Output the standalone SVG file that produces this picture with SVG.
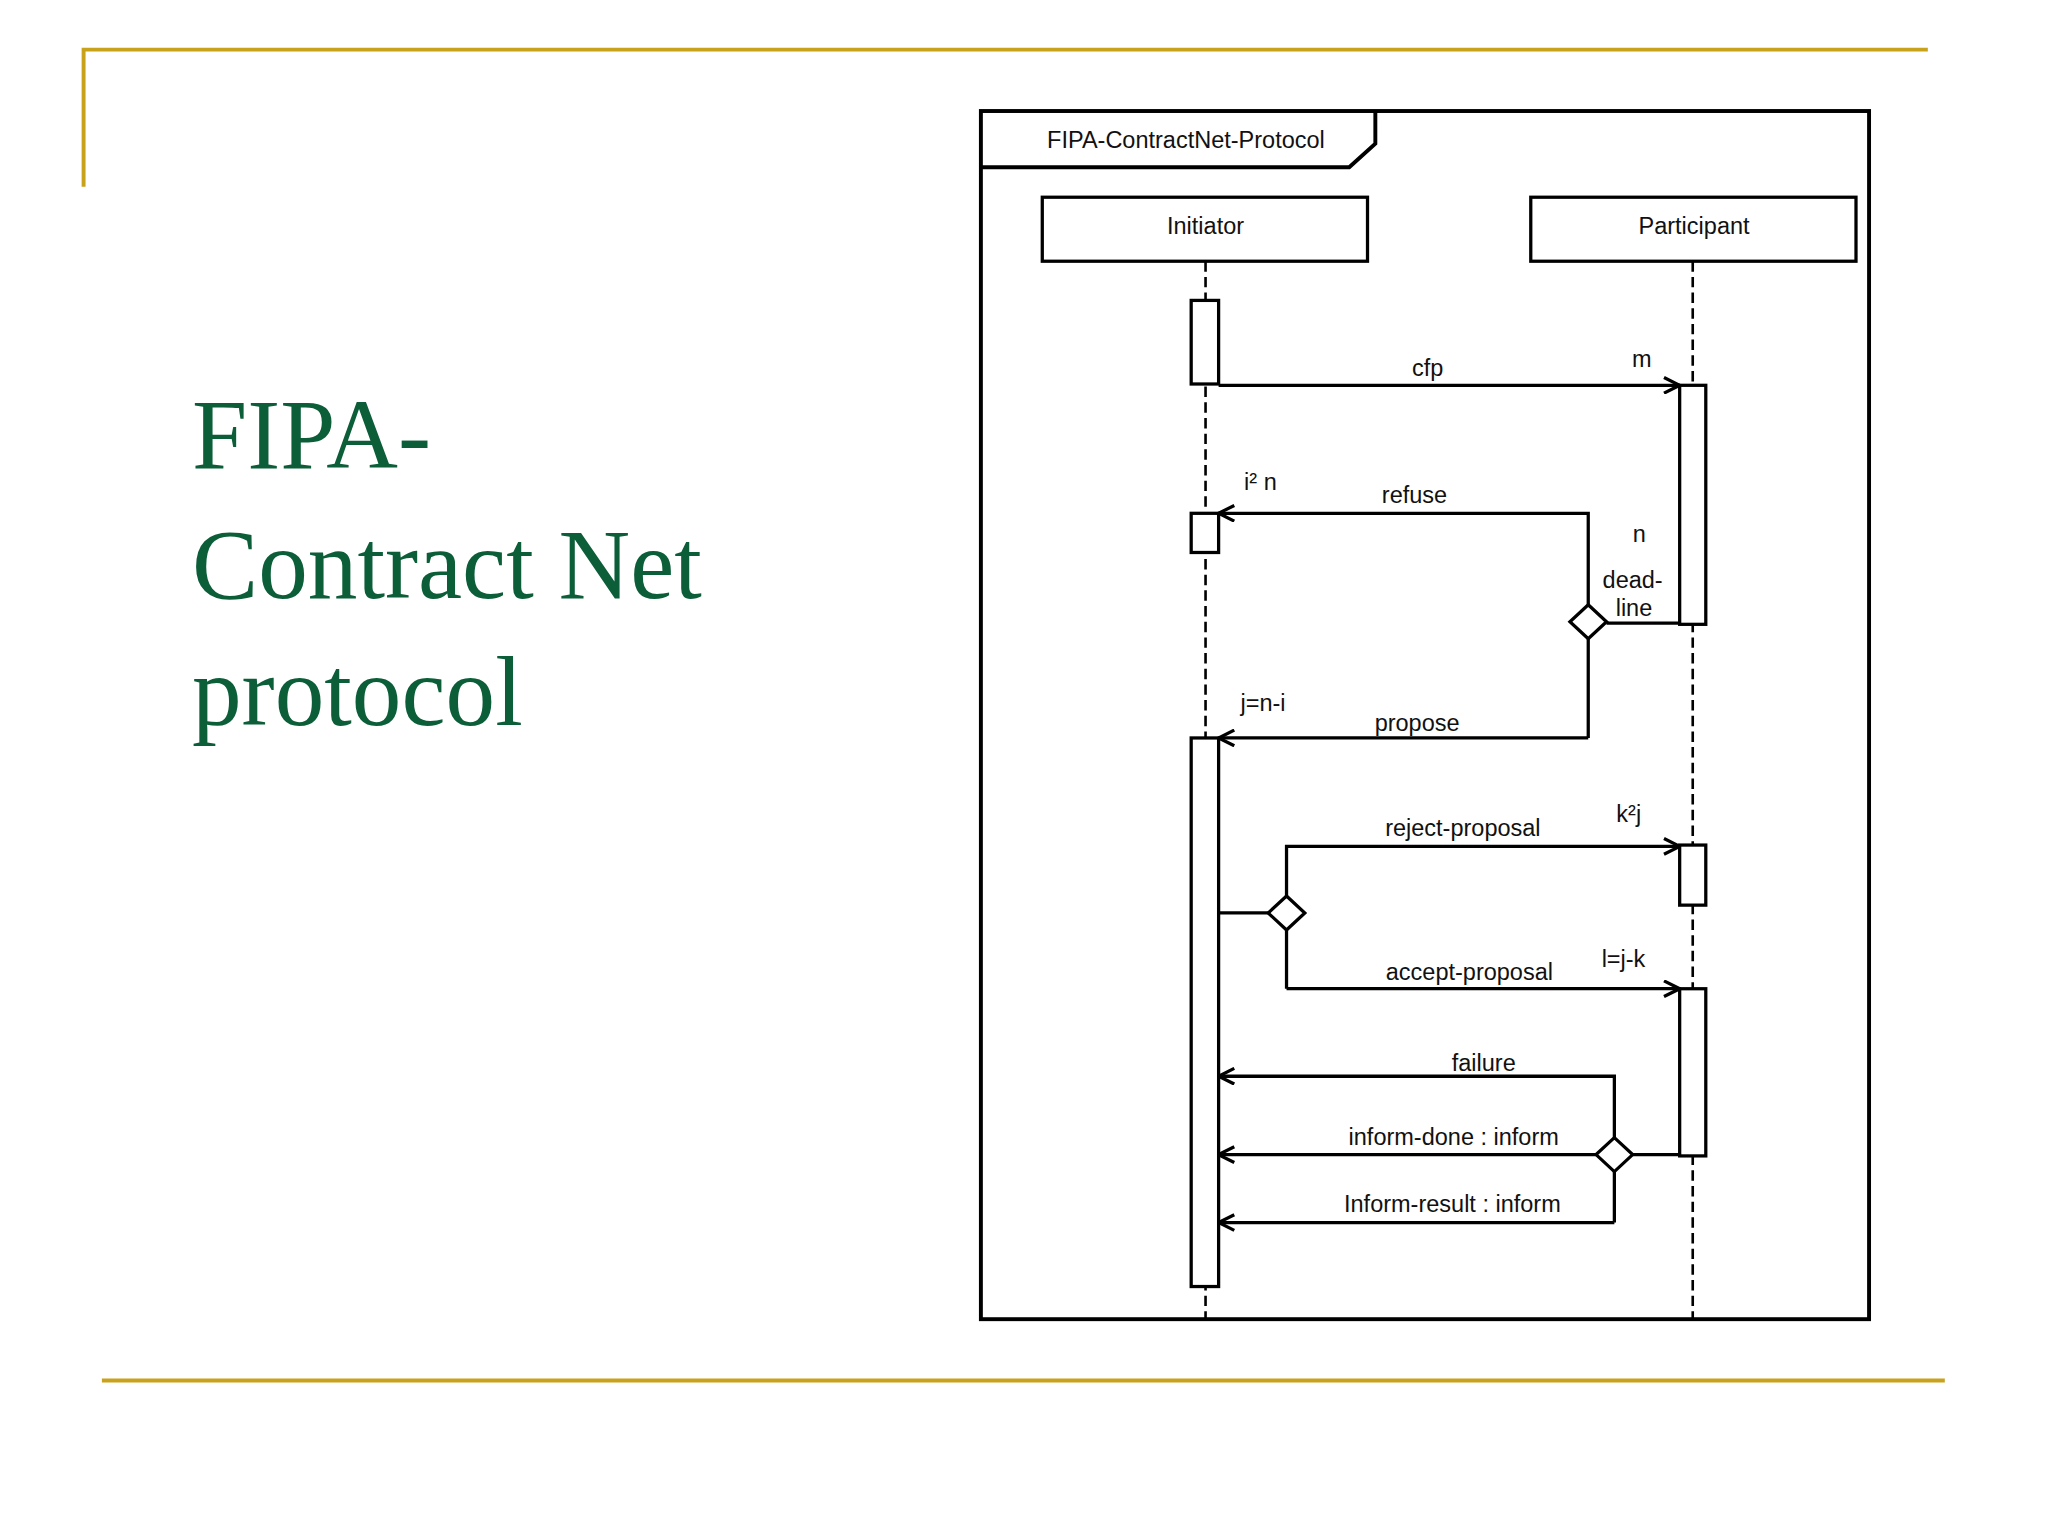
<svg xmlns="http://www.w3.org/2000/svg" width="2048" height="1536" viewBox="0 0 2048 1536">
<style>
.s{fill:none;stroke:#000;stroke-width:2.5}
.b{fill:#fff;stroke:#000;stroke-width:2.5}
.d{fill:none;stroke:#000;stroke-width:2;stroke-dasharray:8 4}
.t{font-family:"Liberation Sans",Arial,sans-serif;font-size:18px;fill:#111;text-anchor:middle}
.h{font-family:"Liberation Serif","Times New Roman",serif;font-size:76px;fill:#0B5E38}
.g{stroke:#C9A21B;stroke-width:3;fill:none}
</style>
<defs><marker id="a" viewBox="0 0 14 14" refX="13" refY="7" markerWidth="14" markerHeight="14" markerUnits="userSpaceOnUse" orient="auto"><path d="M1,1 L13,7 L1,13" fill="none" stroke="#000" stroke-width="2.5"/></marker></defs>
<rect width="2048" height="1536" fill="#fff"/>
<g transform="scale(1.30612)">
<g id="deco"><path class="g" d="M64,143 V38 H1476"/><path class="g" d="M78,1057 H1489"/></g>
<g id="title"><text class="h" x="147" y="358">FIPA-</text><text class="h" x="147" y="458">Contract Net</text><text class="h" x="147" y="555">protocol</text></g>
<g id="frame"><rect x="751" y="85" width="680" height="925" fill="none" stroke="#000" stroke-width="3"/><path d="M751,128 H1033 L1053,110 V85" fill="none" stroke="#000" stroke-width="3"/><text class="t" x="908" y="113">FIPA-ContractNet-Protocol</text></g>
<g id="lifelines"><line class="d" x1="923" y1="200" x2="923" y2="1010"/><line class="d" x1="1296" y1="200" x2="1296" y2="1010"/></g>
<g id="initiator"><rect class="b" x="798" y="151" width="249" height="49"/><text class="t" x="923" y="179">Initiator</text></g>
<g id="participant"><rect class="b" x="1172" y="151" width="249" height="49"/><text class="t" x="1297" y="179">Participant</text></g>
<g id="activations">
<rect class="b" x="912" y="230" width="21" height="64"/><rect class="b" x="912" y="393" width="21" height="30"/><rect class="b" x="912" y="565" width="21" height="420"/>
<rect class="b" x="1286" y="295" width="20" height="183"/><rect class="b" x="1286" y="647" width="20" height="46"/><rect class="b" x="1286" y="757" width="20" height="128"/>
</g>
<g id="connectors">
<line class="s" x1="933" y1="295" x2="1286" y2="295" marker-end="url(#a)"/>
<path class="s" d="M1216,565 V393 H933" marker-end="url(#a)"/>
<line class="s" x1="1230" y1="477" x2="1286" y2="477"/>
<line class="s" x1="1216" y1="565" x2="933" y2="565" marker-end="url(#a)"/>
<path class="b" d="M1216,463 L1230,476 L1216,489 L1202,476 Z"/>
<line class="s" x1="933" y1="699" x2="971" y2="699"/>
<path class="s" d="M985,757 V648 H1286" marker-end="url(#a)"/>
<line class="s" x1="985" y1="757" x2="1286" y2="757" marker-end="url(#a)"/>
<path class="b" d="M985,686 L999,699 L985,712 L971,699 Z"/>
<path class="s" d="M1236,936 V824 H933" marker-end="url(#a)"/>
<line class="s" x1="1236" y1="884" x2="933" y2="884" marker-end="url(#a)"/>
<line class="s" x1="1236" y1="936" x2="933" y2="936" marker-end="url(#a)"/>
<line class="s" x1="1250" y1="884" x2="1286" y2="884"/>
<path class="b" d="M1236,871 L1250,884 L1236,897 L1222,884 Z"/>
</g>
<g id="labels">
<text class="t" x="1093" y="288">cfp</text><text class="t" x="1257" y="281">m</text>
<text class="t" x="1083" y="385">refuse</text><text class="t" x="965" y="375">i² n</text>
<text class="t" x="1255" y="415">n</text><text class="t" x="1250" y="450">dead-</text><text class="t" x="1251" y="472">line</text>
<text class="t" x="1085" y="560">propose</text><text class="t" x="967" y="544">j=n-i</text>
<text class="t" x="1120" y="640">reject-proposal</text><text class="t" x="1247" y="629">k²j</text>
<text class="t" x="1125" y="750">accept-proposal</text><text class="t" x="1243" y="740">l=j-k</text>
<text class="t" x="1136" y="820">failure</text>
<text class="t" x="1113" y="877">inform-done : inform</text>
<text class="t" x="1112" y="928">Inform-result : inform</text>
</g>
</g>
</svg>
